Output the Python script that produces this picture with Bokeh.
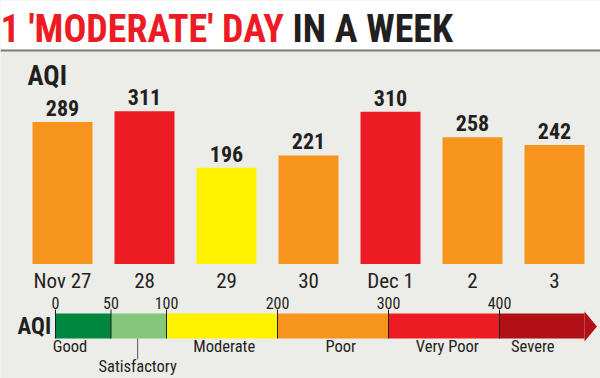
from bokeh.plotting import figure
from bokeh.models import Range1d, ColumnDataSource
from bokeh.core.properties import value
from bokeh.embed import file_html
from bokeh.resources import INLINE

# ---------------- data ----------------
days = ["Nov 27", "28", "29", "30", "Dec 1", "2", "3"]
aqi_values = [289, 311, 196, 221, 310, 258, 242]

band_names = ["Good", "Satisfactory", "Moderate", "Poor", "Very Poor", "Severe"]
band_lo = [0, 50, 100, 200, 300, 400]
band_hi = [50, 100, 200, 300, 400, 476.6]
band_colors = ["#00873E", "#84C77A", "#FFF200", "#F7941D", "#ED1C24", "#B01016"]
scale_ticks = [0, 50, 100, 200, 300, 400]
scale_tick_labels = ["0", "50", "100", "200", "300", "400"]

# layout anchors for the band captions (AQI units)
band_label_at = [13, 74, 152, 257, 353, 430]

FONT = "'Roboto Condensed', 'DejaVu Sans Condensed', 'Liberation Sans Narrow', Roboto, sans-serif"
DARK = "#231F20"
BG = "#ECECE8"

W, H = 600, 378


def band_color(v):
    for lo, hi, c in zip(band_lo, band_hi, band_colors):
        if lo <= v < hi:
            return c
    return band_colors[-1]


bar_colors = [band_color(v) for v in aqi_values]

p = figure(width=W, height=H, output_backend="svg", toolbar_location=None,
           x_range=Range1d(-0.7561, 6.5610), y_range=Range1d(-233.06, 536.33),
           min_border=0, background_fill_color=BG, border_fill_color=BG,
           outline_line_color=None)
p.xaxis.visible = False
p.yaxis.visible = False
p.grid.visible = False
p.extra_x_ranges = {"aqi": Range1d(-49.55, 490.99), "px": Range1d(0, 600)}
p.extra_y_ranges = {"px": Range1d(378, 0)}

# white header band + rule
p.quad(left=[0], right=[600], top=[0], bottom=[49], x_range_name="px",
       y_range_name="px", fill_color="white", line_color=None)
p.segment(x0=[0], x1=[600], y0=[50], y1=[50], x_range_name="px",
          y_range_name="px", line_color="#7A7A7A", line_width=2)

# title
p.text(x=[0], y=[28], text=["1 'MODERATE' DAY"], x_range_name="px",
       y_range_name="px", text_font=value(FONT), text_font_style="bold",
       text_font_size="38px", text_color="#ED1C24", text_baseline="middle")
p.text(x=[292], y=[28], text=["IN A WEEK"], x_range_name="px",
       y_range_name="px", text_font=value(FONT), text_font_style="bold",
       text_font_size="38px", text_color=DARK, text_baseline="middle")

# "AQI" chart label
p.text(x=[27], y=[75], text=["AQI"], x_range_name="px", y_range_name="px",
       text_font=value(FONT), text_font_style="bold", text_font_size="27px",
       text_color=DARK, text_baseline="middle")

# bars
idx = list(range(len(days)))
src = ColumnDataSource(dict(x=idx, top=aqi_values, color=bar_colors,
                            lab=[str(v) for v in aqi_values], day=days))
p.vbar(x="x", top="top", bottom=0, width=0.7317, fill_color="color",
       line_color=None, source=src)
p.text(x="x", y="top", text="lab", source=src, y_offset=-14,
       text_font=value(FONT), text_font_style="bold", text_font_size="22px",
       text_color=DARK, text_align="center", text_baseline="middle")

# day labels
p.text(x=idx, y=[280] * len(days), text=days, y_range_name="px",
       text_font=value(FONT), text_font_size="21px", text_color=DARK,
       text_align="center", text_baseline="middle")

# ---------- AQI scale ----------
p.quad(left=band_lo, right=band_hi, top=[313] * 6, bottom=[338] * 6,
       fill_color=band_colors, line_color=None, x_range_name="aqi",
       y_range_name="px")
# arrow head
p.patch(x=[band_hi[-1], band_hi[-1], 487.8], y=[311, 341, 326],
        fill_color=band_colors[-1], line_color=None, x_range_name="aqi",
        y_range_name="px")
# tick lines
p.segment(x0=scale_ticks, x1=scale_ticks, y0=[309] * 6, y1=[338] * 6,
          line_color=DARK, line_width=1, x_range_name="aqi", y_range_name="px")
p.text(x=scale_ticks, y=[302] * 6, text=scale_tick_labels,
       x_range_name="aqi", y_range_name="px", text_font=value(FONT),
       text_font_size="16px", text_color=DARK, text_align="center",
       text_baseline="middle")

# scale label
p.text(x=[17], y=[326], text=["AQI"], x_range_name="px", y_range_name="px",
       text_font=value(FONT), text_font_style="bold", text_font_size="23px",
       text_color=DARK, text_baseline="middle")

# band captions
rows = [346, 366, 346, 346, 346, 346]
p.text(x=band_label_at, y=rows, text=band_names, x_range_name="aqi",
       y_range_name="px", text_font=value(FONT), text_font_size="16.5px",
       text_color=DARK, text_align="center", text_baseline="middle")
# leader for "Satisfactory"
p.segment(x0=[band_label_at[1]], x1=[band_label_at[1]], y0=[338], y1=[359],
          line_color="#555555", line_width=1, x_range_name="aqi",
          y_range_name="px")

open("out.html", "w").write(file_html(p, INLINE))
